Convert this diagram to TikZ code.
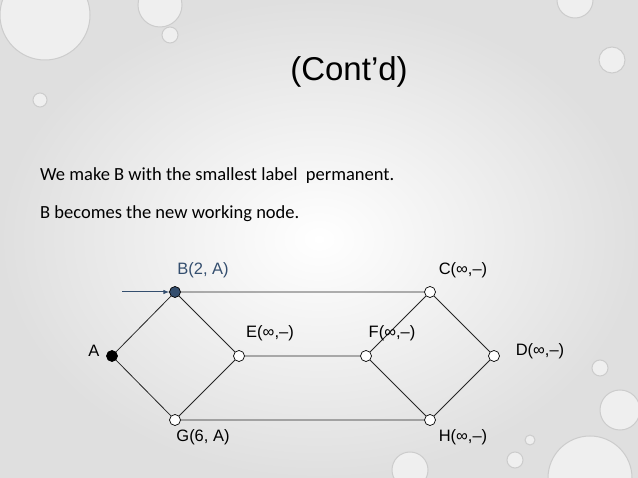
\documentclass[tikz,border=0pt]{standalone}
\usepackage{fontspec}
\setmainfont{Liberation Sans}
\newfontfamily\bodyfont{Carlito}
\begin{document}
\begin{tikzpicture}[x=1pt,y=-1pt,
  vtx/.style={circle,draw=black,line width=0.7pt,fill=white,inner sep=0pt,minimum size=11pt},
  edge/.style={draw=black!85,line width=0.8pt},
  lbl/.style={font=\fontsize{16.5}{18}\selectfont,inner sep=0pt},
  drop/.style={draw=gray!40,line width=1pt,fill=white,fill opacity=0.5}]
\useasboundingbox (0,0) rectangle (638,478);
\shade[inner color=white,outer color=gray!25] (0,0) rectangle (638,478);
% decorative drops
\draw[drop] (45,15) circle (45);
\draw[drop] (160,5) circle (22);
\draw[drop] (170,35) circle (8);
\draw[drop] (40,100) circle (7);
\draw[drop] (612,60) circle (13);
\draw[drop] (575,0) circle (18);
\draw[drop] (600,368) circle (8);
\draw[drop] (620,410) circle (20);
\draw[drop] (590,478) circle (42);
\draw[drop] (410,470) circle (18);
\draw[drop] (515,460) circle (8);
\draw[drop] (530,440) circle (5);
\node[font=\fontsize{33}{36}\selectfont] (title) at (349,72) {(Cont’d)};
\node[anchor=west,font=\bodyfont\fontsize{18.5}{20}\selectfont,inner sep=0pt] (t1) at (40,176) {We make B with the smallest label\ \ permanent.};
\node[anchor=west,font=\bodyfont\fontsize{18.5}{20}\selectfont,inner sep=0pt] (t2) at (40,214) {B becomes the new working node.};
\node[vtx,fill=black] (A) at (112,356) {};
\node[vtx,fill={rgb,255:red,52;green,78;blue,110}] (B) at (175,292) {};
\node[vtx] (E) at (239,356) {};
\node[vtx] (F) at (366,356) {};
\node[vtx] (C) at (430,292) {};
\node[vtx] (D) at (494,356) {};
\node[vtx] (G) at (175,420) {};
\node[vtx] (H) at (430,420) {};
\draw[edge] (A)--(B) (A)--(G) (B)--(E) (G)--(E) (B)--(C) (G)--(H) (E)--(F)
  (F)--(C) (F)--(H) (C)--(D) (H)--(D);
\coordinate (arr) at (122,292);
\draw[-latex,line width=1pt,draw={rgb,255:red,52;green,78;blue,110}] (arr)--(B);
\node[lbl,text={rgb,255:red,52;green,78;blue,110}] (lB) at (203,270) {B(2, A)};
\node[lbl] (lC) at (463,270) {C(∞,–)};
\node[lbl] (lE) at (270,333) {E(∞,–)};
\node[lbl] (lF) at (392,333) {F(∞,–)};
\node[lbl] (lA) at (94,351) {A};
\node[lbl] (lD) at (540,351) {D(∞,–)};
\node[lbl] (lG) at (203,437) {G(6, A)};
\node[lbl] (lH) at (463,437) {H(∞,–)};
\end{tikzpicture}
\end{document}
